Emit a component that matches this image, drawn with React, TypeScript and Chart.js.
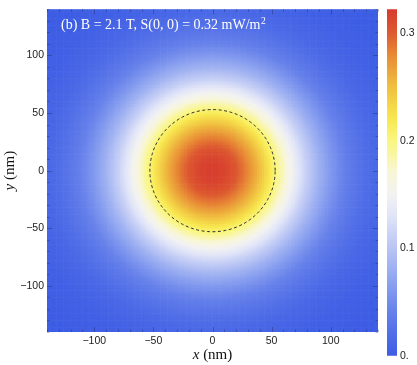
import React, { useEffect, useRef } from "react";
import { Chart, registerables } from "chart.js";
Chart.register(...registerables);

// ---- data ----
const axisMin = -140;
const axisMax = 140;
const xTicks = [-100, -50, 0, 50, 100];
const yTicks = [-100, -50, 0, 50, 100];
const minorStep = 10;
// radial profile S(r) (mW/m^2) read from the colour field
const profileR = [0, 10, 20, 30, 40, 50, 60, 70, 80, 90, 100, 110, 120, 130, 140, 160, 180, 200];
const profileS = [0.32, 0.316, 0.303, 0.281, 0.252, 0.216, 0.178, 0.142, 0.11, 0.083, 0.061, 0.043, 0.03, 0.02, 0.013, 0.005, 0.0018, 0.0005];
const contourRadius = 53;
// colour bar
const cbMax = 0.3225;
const cbTicks = [0, 0.1, 0.2, 0.3];
const cbValues = [0, 0.04, 0.07, 0.1, 0.13, 0.15, 0.17, 0.2, 0.22, 0.25, 0.28, 0.3, 0.3225];
const cbColors = ["#3c5ce4", "#6580ea", "#8ea4f0", "#b8c4f4", "#e0e4f8", "#f2f2f2", "#f8f6d8", "#faf680", "#f8e850", "#f0c040", "#e88a35", "#dd5a30", "#d63a2e"];
const titleMain = "(b) B = 2.1 T, S(0, 0) = 0.32 mW/m";
const titleSup = "2";
const cellStep = 2;

function hexToRgb(h: string) {
  const n = parseInt(h.slice(1), 16);
  return [(n >> 16) & 255, (n >> 8) & 255, n & 255];
}
const cbRgb = cbColors.map(hexToRgb);

function colorFor(v: number) {
  if (v <= cbValues[0]) return cbColors[0];
  for (let i = 1; i < cbValues.length; i++) {
    if (v <= cbValues[i]) {
      const t = (v - cbValues[i - 1]) / (cbValues[i] - cbValues[i - 1]);
      const a = cbRgb[i - 1], b = cbRgb[i];
      return `rgb(${Math.round(a[0] + (b[0] - a[0]) * t)},${Math.round(a[1] + (b[1] - a[1]) * t)},${Math.round(a[2] + (b[2] - a[2]) * t)})`;
    }
  }
  return cbColors[cbColors.length - 1];
}

function profileAt(r: number) {
  for (let i = 1; i < profileR.length; i++) {
    if (r <= profileR[i]) {
      const t = (r - profileR[i - 1]) / (profileR[i] - profileR[i - 1]);
      return profileS[i - 1] + (profileS[i] - profileS[i - 1]) * t;
    }
  }
  return profileS[profileS.length - 1];
}

function buildCells() {
  const cells: { x: number; y: number; v: number }[] = [];
  for (let x = axisMin + cellStep / 2; x < axisMax; x += cellStep) {
    for (let y = axisMin + cellStep / 2; y < axisMax; y += cellStep) {
      cells.push({ x, y, v: profileAt(Math.hypot(x, y)) });
    }
  }
  return cells;
}

function buildContour() {
  const pts: { x: number; y: number }[] = [];
  for (let i = 0; i <= 240; i++) {
    const a = (i / 240) * Math.PI * 2;
    pts.push({ x: contourRadius * Math.cos(a), y: contourRadius * Math.sin(a) });
  }
  return pts;
}

const heatmapPlugin = {
  id: "heatmap",
  beforeDatasetsDraw(chart: any) {
    const { ctx, chartArea, scales } = chart;
    const xs = scales.x, ys = scales.y;
    const half = cellStep / 2;
    ctx.save();
    ctx.beginPath();
    ctx.rect(chartArea.left, chartArea.top, chartArea.right - chartArea.left, chartArea.bottom - chartArea.top);
    ctx.clip();
    const data = chart.data.datasets[0].data;
    for (const c of data) {
      const x0 = xs.getPixelForValue(c.x - half);
      const x1 = xs.getPixelForValue(c.x + half);
      const y0 = ys.getPixelForValue(c.y + half);
      const y1 = ys.getPixelForValue(c.y - half);
      ctx.fillStyle = colorFor(c.v);
      ctx.fillRect(x0 - 0.3, y0 - 0.3, x1 - x0 + 0.6, y1 - y0 + 0.6);
    }
    ctx.restore();
  },
};

const framePlugin = {
  id: "frameTicks",
  afterDatasetsDraw(chart: any) {
    const { ctx, chartArea, scales } = chart;
    const xs = scales.x, ys = scales.y;
    ctx.save();
    ctx.strokeStyle = "rgba(20,20,60,0.3)";
    ctx.lineWidth = 1;
    ctx.beginPath();
    for (let v = Math.ceil(axisMin / minorStep) * minorStep; v <= axisMax; v += minorStep) {
      const major = v % 50 === 0;
      const len = major ? 5 : 2.5;
      const px = Math.round(xs.getPixelForValue(v)) + 0.5;
      ctx.moveTo(px, chartArea.bottom); ctx.lineTo(px, chartArea.bottom - len);
      ctx.moveTo(px, chartArea.top); ctx.lineTo(px, chartArea.top + len);
      const py = Math.round(ys.getPixelForValue(v)) + 0.5;
      ctx.moveTo(chartArea.left, py); ctx.lineTo(chartArea.left + len, py);
      ctx.moveTo(chartArea.right, py); ctx.lineTo(chartArea.right - len, py);
    }
    ctx.stroke();
    ctx.restore();
  },
  afterDraw(chart: any) {
    const { ctx, chartArea } = chart;
    ctx.save();
    // title inside the plot
    ctx.fillStyle = "#ffffff";
    ctx.textBaseline = "alphabetic";
    ctx.textAlign = "left";
    ctx.font = "14px 'Liberation Serif', serif";
    const tx = chartArea.left + 14;
    const ty = chartArea.top + 20;
    ctx.fillText(titleMain, tx, ty);
    const w = ctx.measureText(titleMain).width;
    ctx.font = "9.5px 'Liberation Serif', serif";
    ctx.fillText(titleSup, tx + w + 0.5, ty - 5.5);
    // x axis title
    ctx.fillStyle = "#111";
    const cx = (chartArea.left + chartArea.right) / 2;
    ctx.font = "italic 15px 'Liberation Serif', serif";
    const xw = ctx.measureText("x").width;
    ctx.font = "15px 'Liberation Serif', serif";
    const rw = ctx.measureText(" (nm)").width;
    const startX = cx - (xw + rw) / 2;
    ctx.font = "italic 15px 'Liberation Serif', serif";
    ctx.fillText("x", startX, 359);
    ctx.font = "15px 'Liberation Serif', serif";
    ctx.fillText(" (nm)", startX + xw, 359);
    // y axis title
    const cy = (chartArea.top + chartArea.bottom) / 2;
    ctx.translate(14, cy);
    ctx.rotate(-Math.PI / 2);
    ctx.font = "italic 15px 'Liberation Serif', serif";
    const yw = ctx.measureText("y").width;
    const sy = -(yw + rw) / 2;
    ctx.fillText("y", sy, 0);
    ctx.font = "15px 'Liberation Serif', serif";
    ctx.fillText(" (nm)", sy + yw, 0);
    ctx.restore();
  },
};

const tickFont = { family: "'Liberation Sans', Arial, sans-serif", size: 10.5 };

export default function App() {
  const mainRef = useRef<HTMLCanvasElement>(null);
  const cbRef = useRef<HTMLCanvasElement>(null);

  useEffect(() => {
    const main = new Chart(mainRef.current!, {
      type: "scatter",
      data: {
        datasets: [
          { data: buildCells(), pointRadius: 0, pointHoverRadius: 0 } as any,
          {
            data: buildContour(),
            showLine: true,
            borderColor: "#2a2a2a",
            borderWidth: 1,
            borderDash: [3, 2.5],
            pointRadius: 0,
            fill: false,
          } as any,
        ],
      },
      options: {
        animation: false,
        responsive: false,
        events: [],
        layout: { padding: { left: 0, top: 1, right: 7, bottom: 0 } },
        plugins: { legend: { display: false }, tooltip: { enabled: false } },
        scales: {
          x: {
            type: "linear",
            min: axisMin,
            max: axisMax,
            grid: { display: false, drawTicks: false },
            border: { display: false },
            afterBuildTicks: (s: any) => { s.ticks = xTicks.map((v) => ({ value: v })); },
            afterFit: (s: any) => { s.height = 33; },
            ticks: {
              padding: 3,
              color: "#222",
              font: tickFont,
              maxRotation: 0,
              callback: (v: any) => (Number(v) < 0 ? "\u2212" + Math.abs(Number(v)) : String(v)),
            },
          },
          y: {
            type: "linear",
            min: axisMin,
            max: axisMax,
            grid: { display: false, drawTicks: false },
            border: { display: false },
            afterBuildTicks: (s: any) => { s.ticks = yTicks.map((v) => ({ value: v })); },
            afterFit: (s: any) => { s.width = 47; },
            ticks: {
              padding: 3,
              color: "#222",
              font: tickFont,
              callback: (v: any) => (Number(v) < 0 ? "\u2212" + Math.abs(Number(v)) : String(v)),
            },
          },
        },
      },
      plugins: [heatmapPlugin, framePlugin],
    } as any);

    const cb = new Chart(cbRef.current!, {
      type: "bar",
      data: {
        labels: [""],
        datasets: [
          {
            data: [[0, cbMax]],
            barPercentage: 1,
            categoryPercentage: 1,
            borderWidth: 0,
            backgroundColor: (c: any) => {
              const ch = c.chart;
              const ys = ch.scales.y;
              if (!ch.chartArea || !ys) return cbColors[0];
              const g = ch.ctx.createLinearGradient(0, ys.getPixelForValue(0), 0, ys.getPixelForValue(cbMax));
              cbValues.forEach((v, i) => g.addColorStop(v / cbMax, cbColors[i]));
              return g;
            },
          } as any,
        ],
      },
      options: {
        animation: false,
        responsive: false,
        events: [],
        layout: { padding: { left: 7, top: 3, right: 0, bottom: 6 } },
        plugins: { legend: { display: false }, tooltip: { enabled: false } },
        scales: {
          x: { display: false },
          y: {
            position: "right",
            min: 0,
            max: cbMax,
            grid: { display: false, drawTicks: false },
            border: { display: false },
            afterBuildTicks: (s: any) => { s.ticks = cbTicks.map((v) => ({ value: v })); },
            afterFit: (s: any) => { s.width = 20; },
            ticks: {
              padding: 3,
              color: "#222",
              font: tickFont,
              callback: (v: any) => (Number(v) === 0 ? "0." : Number(v).toFixed(1)),
            },
          },
        },
      },
    } as any);

    return () => {
      main.destroy();
      cb.destroy();
    };
  }, []);

  return (
    <div style={{ position: "fixed", left: 0, top: 0, width: 417, height: 365, background: "#fff" }}>
      <canvas ref={mainRef} width={385} height={365} style={{ position: "absolute", left: 0, top: 0, width: 385, height: 365 }} />
      <canvas ref={cbRef} width={37} height={365} style={{ position: "absolute", left: 380, top: 0, width: 37, height: 365 }} />
    </div>
  );
}
